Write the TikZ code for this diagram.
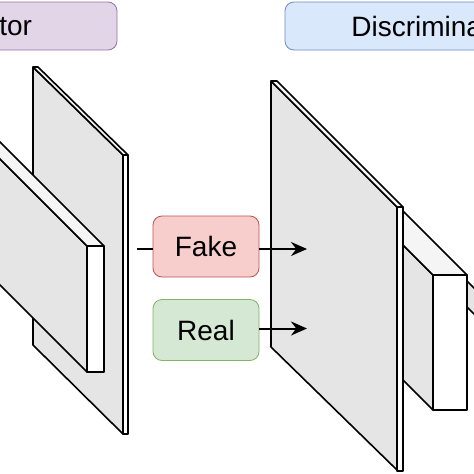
\documentclass[tikz,border=0pt]{standalone}
\usepackage{fontspec}
\setmainfont{Liberation Sans}
\usetikzlibrary{arrows.meta, positioning}
\definecolor{genfill}{HTML}{E1D5E7}
\definecolor{genline}{HTML}{9673A6}
\definecolor{discfill}{HTML}{DAE8FC}
\definecolor{discline}{HTML}{6C8EBF}
\definecolor{fakefill}{HTML}{F8CECC}
\definecolor{fakeline}{HTML}{B85450}
\definecolor{realfill}{HTML}{D5E8D4}
\definecolor{realline}{HTML}{82B366}
\tikzstyle{arrow} = [line width=2pt, -{Stealth[length=16pt,width=14pt]}]
\tikzstyle{title} = [rectangle, rounded corners=9pt, minimum width=296pt, minimum height=48pt, text centered, line width=0.8pt, font=\fontsize{28}{34}\selectfont]
\tikzstyle{genbox} = [title, draw=genline, fill=genfill]
\tikzstyle{discbox} = [title, draw=discline, fill=discfill]
\tikzstyle{sample} = [rectangle, rounded corners=9pt, minimum width=106pt, minimum height=61pt, text centered, line width=0.8pt, font=\fontsize{28}{34}\selectfont]
\tikzstyle{fakebox} = [sample, draw=fakeline, fill=fakefill]
\tikzstyle{realbox} = [sample, draw=realline, fill=realfill]
\tikzstyle{side} = [draw=black, line width=1.6pt, line join=round, fill=gray!20]
\tikzstyle{lid} = [side, fill=gray!8]
\tikzstyle{front} = [side, fill=white]
\begin{document}
\begin{tikzpicture}[x=1pt, y=-1pt]
	\useasboundingbox (0,0) rectangle (474,474);
	\clip (0,0) rectangle (474,474);
	
	%generator plate
	\filldraw[side] (33,67) -- (123,155) -- (123,434) -- (33,345) -- cycle;
	\filldraw[lid] (33,67) -- (38,67) -- (128,155) -- (123,155) -- cycle;
	\filldraw[front] (123,155) rectangle (128,434);
	
	%generator block
	\filldraw[side] (87,246) -- (87,372) -- (-63,222) -- (-63,96) -- cycle;
	\filldraw[lid] (87,246) -- (104,246) -- (-46,96) -- (-63,96) -- cycle;
	\filldraw[front] (87,246) rectangle (104,372);
	
	%discriminator blocks
	\filldraw[side] (450,264) -- (520,334) -- (520,360) -- (450,290) -- cycle;
	\filldraw[side] (433,275) -- (433,410) -- (367,344) -- (367,209) -- cycle;
	\filldraw[lid] (433,275) -- (467,275) -- (401,209) -- (367,209) -- cycle;
	\filldraw[front] (433,275) rectangle (467,410);
	
	%discriminator plate
	\filldraw[side] (271,81) -- (397,207) -- (397,470) -- (271,347) -- cycle;
	\filldraw[lid] (271,81) -- (277,81) -- (403,207) -- (397,207) -- cycle;
	\filldraw[front] (397,207) rectangle (403,471);
	
	%\node(label)[type]{name}
	\node(gen)[genbox] at (-31,26){Generator};
	\node(disc)[discbox] at (433,26){Discriminator};
	\node(fake)[fakebox] at (206,246.5){Fake};
	\node(real)[realbox, below of = fake, node distance = 83.5pt]{Real};
	
	\coordinate(genout) at (137,248.5);
	\coordinate(fakein) at (307,249);
	\coordinate(realin) at (307,328.5);
	
	%arrows
	\draw [line width=2pt] (genout) -- (genout -| fake.west);
	\draw [arrow] (fakein -| fake.east) -- (fakein);
	\draw [arrow] (realin -| real.east) -- (realin);
\end{tikzpicture}
\end{document}
